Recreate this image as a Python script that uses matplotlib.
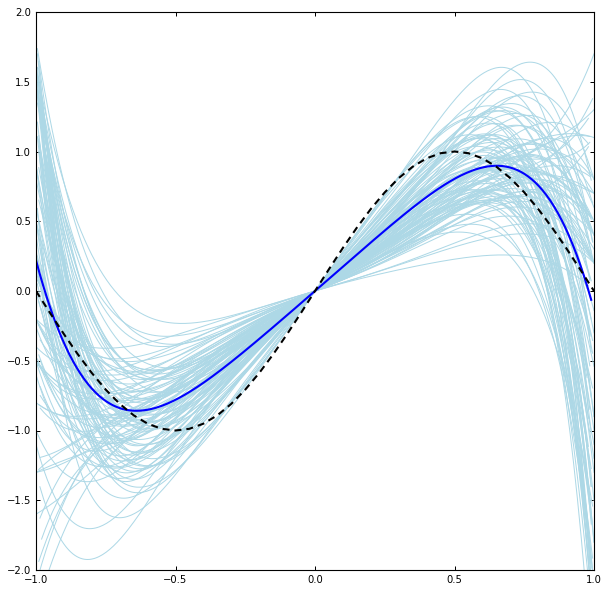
import numpy as np
import matplotlib
matplotlib.use("Agg")
import matplotlib.pyplot as plt

# ---- data: polynomial fits (coefficients of x, x^2, x^3, x^4, x^5, x^9)
C1 = [1.74, 1.74, 1.74, 1.74, 1.74, 1.2, 1.2, 1.2, 2.0, 2.0,
      2.0, 1.4, 1.4, 1.4, 1.4, 1.8, 1.8, 1.8, 1.0, 1.0,
      2.4, 2.4, 2.4, 0.8, 0.8, 1.3, 1.3, 1.3, 2.2, 2.2,
      2.2, 1.6, 1.6, 0.6, 2.8, 2.8, 2.8, 1.5, 1.5, 1.5,
      1.1, 1.1, 1.1, 1.9, 1.9, 1.4, 1.4, 2.0, 2.0, 2.0,
      1.2, 1.2, 1.2, 1.7, 2.5, 1.6, 1.6, 1.0, 1.0, 1.3,
      1.3, 1.8, 1.8, 2.0, 2.0, 2.6, 2.0, 2.4, 1.8, 2.8,
      1.74, 1.9, 2.1, 2.1, 1.5, 1.5, 1.5, 0.9, 0.9, 1.2,
      1.0, 1.6, 1.8, 1.8, 1.3, 1.0, 1.4, 1.5, 0.6, 0.8,
      1.3, 2.2, 1.1, 1.2, 1.4, 2.0, 1.7, 0.8, 0.6, 0.9,
      1.2, 1.0, 1.5, 1.4, 0.8]
C2 = [0.0, 0.3, -0.3, -0.2, 0.2, 0.3, -0.1, 0.4, 0.0, 0.5,
      0.1, 0.0, 0.3, -0.2, -0.3, 0.0, 0.1, -0.3, 0.0, -0.4,
      0.0, 0.3, -0.1, 0.0, 0.4, 0.0, 0.1, -0.6, 0.0, -0.2,
      -0.1, 0.0, 0.4, -0.4, 0.0, 0.2, 0.1, 0.0, 0.1, -0.4,
      0.0, 0.3, -0.1, 0.0, -0.2, 0.3, -0.1, 0.0, 0.4, -0.3,
      0.0, -0.2, 0.1, 0.2, -0.1, -0.1, -0.3, 0.0, 0.2, -0.1,
      -0.3, 0.2, 0.0, -0.1, 0.2, 0.1, -0.2, 0.2, -0.3, -0.3,
      -0.1, -0.1, 0.0, 0.1, 0.0, 0.3, -0.6, 0.0, 0.1, 0.2,
      -0.2, 0.2, -0.1, -0.3, 0.0, 0.1, 0.0, 0.4, 0.0, -0.1,
      -0.3, -0.3, -0.6, -0.6, -0.6, -0.6, -0.1, 0.0, 0.0, 0.0,
      0.0, -0.1, 0.0, 0.0, 0.4]
C3 = [-0.19, -0.19, -0.19, -0.19, -0.19, 1.0, 1.0, 1.0, -0.5, -0.5,
      -0.5, 0.8, 0.8, 0.8, 0.8, 1.0, 1.0, 1.0, 2.0, 2.0,
      -0.8, -0.8, -0.8, 1.0, 1.0, 2.0, 2.0, 2.0, 1.4, 1.4,
      1.4, 1.6, 1.6, 0.3, -1.0, -1.0, -1.0, 0.0, 0.0, 0.0,
      1.5, 1.5, 1.5, 2.0, 2.0, -0.3, -0.3, 0.5, 0.5, 0.5,
      0.5, 0.5, 0.5, 3.0, 1.0, 2.5, 2.5, 0.8, 0.8, 0.2,
      0.2, -2.0, -2.0, -1.5, -1.5, 1.5, -0.5, -0.8, 1.0, -1.0,
      -0.19, 2.0, 0.0, 0.0, 1.2, 1.2, 1.2, 0.5, 0.5, 1.0,
      2.0, 1.6, -2.0, -2.0, 0.2, 0.8, -0.3, 0.0, 0.3, 1.0,
      2.0, 1.4, 1.5, 0.5, 0.8, -0.5, 3.5, 1.0, 0.3, 0.5,
      1.0, 0.8, 0.0, -0.3, 1.0]
C4 = [0.0, 0.3, -0.3, 0.6, -0.6, 0.3, -0.2, -0.2, 0.0, 0.5,
      0.2, 0.0, 0.3, 0.6, -0.3, 0.0, 0.2, -0.3, 0.0, 0.2,
      0.0, 0.3, -0.2, 0.0, -0.2, 0.0, 0.2, -0.2, 0.0, 0.6,
      -0.2, 0.0, -0.2, 0.2, 0.0, -0.6, 0.2, 0.0, 0.2, 0.2,
      0.0, 0.3, -0.2, 0.0, 0.6, 0.3, -0.2, 0.0, -0.2, -0.3,
      0.0, 0.6, 0.2, -0.6, -0.2, -0.2, -0.3, 0.0, -0.6, -0.2,
      -0.3, -0.6, 0.0, -0.2, -0.6, 0.2, 0.6, -0.6, -0.3, -0.3,
      -0.2, -0.2, 0.0, 0.2, 0.0, 0.3, -0.2, 0.0, 0.2, -0.6,
      0.6, -0.6, -0.2, -0.3, 0.0, 0.2, 0.0, -0.2, 0.0, -0.2,
      -0.3, -0.3, -0.2, -0.2, -0.2, -0.2, -0.2, 0.9, 0.9, 1.0,
      1.0, 0.6, 1.0, 1.0, 0.5]
C5 = [-1.69, -1.69, -1.69, -1.69, -1.69, -1.8, -1.8, -1.8, -1.8, -1.8,
      -1.8, -3.0, -3.0, -3.0, -3.0, -3.6, -3.6, -3.6, -2.6, -2.6,
      -2.0, -2.0, -2.0, -1.6, -1.6, -4.5, -4.5, -4.5, -4.5, -4.5,
      -4.5, -2.6, -2.6, -0.7, -2.6, -2.6, -2.6, -1.0, -1.0, -1.0,
      -3.5, -3.5, -3.5, -4.0, -4.0, -0.6, -0.6, -4.0, -4.0, -4.0,
      -2.5, -2.5, -2.5, -4.0, -3.0, -6.0, -6.0, -1.0, -1.0, -0.5,
      -0.5, 1.9, 1.9, 0.5, 0.5, -5.0, -1.8, -2.0, -3.6, -2.6,
      -1.69, -4.0, -2.6, -2.6, -3.0, -3.0, -3.0, -1.2, -1.2, -1.8,
      -2.6, -2.6, 1.9, 1.9, -0.5, -1.0, -0.6, -1.0, -0.7, -1.6,
      -4.5, -4.5, -3.5, -2.5, -3.0, -1.8, -4.2, -2.5, -1.6, -2.2,
      -2.8, -1.8, -2.0, -1.6, -2.3]
C9 = [0.0, 0.0, 0.0, -1.0, 0.0, 0.0, -2.0, 0.0, -1.5, -0.5,
      0.0, -1.0, 0.0, 0.0, 0.0, -1.0, -0.6, 0.0, 0.0, 0.0,
      -1.2, 0.0, -1.5, 0.0, 0.0, 0.0, 0.0, 0.0, 0.0, 0.0,
      -1.0, 0.0, 0.0, 0.0, -0.8, -1.2, 0.0, 0.0, 0.0, 0.0,
      0.0, 0.0, 0.0, 0.0, 0.0, 0.0, 0.0, 0.0, 0.0, 0.0,
      0.0, 0.0, -0.5, 0.0, -1.5, 0.0, 0.0, 0.0, 0.0, 0.0,
      0.0, 0.0, 0.0, 0.0, 0.5, 0.0, -1.0, -1.5, -1.5, -1.0,
      -2.0, -2.0, 0.0, -1.0, 0.0, 0.0, -1.0, 0.0, 0.0, 0.0,
      0.0, 0.0, 0.0, 0.0, 0.3, 0.0, 0.0, 0.0, 0.0, 0.0,
      0.0, 0.0, 0.0, 0.0, -0.5, 0.0, 0.0, 0.0, 0.0, 0.0,
      0.0, 0.0, 0.0, 0.0, 0.0]
XS = [-1.0, -0.99, -0.995, -0.98, -1.0, -0.985, -0.99, -1.0, -0.975, -0.99,
      -1.0, -0.995, -0.985, -0.99, -1.0, -0.98, -0.995, -1.0, -0.99, -0.985,
      -1.0, -0.99, -0.975, -1.0, -0.995, -0.985, -0.99, -1.0, -0.98, -0.995,
      -0.99, -1.0, -0.985, -1.0, -0.99, -0.995, -0.98, -1.0, -0.99, -0.985,
      -1.0, -0.995, -0.99, -0.98, -1.0, -0.985, -0.99, -1.0, -0.975, -0.995,
      -1.0, -0.99, -0.985, -1.0, -0.995, -0.98, -0.99, -1.0, -0.985, -0.995,
      -1.0, -0.99, -0.986, -1.0, -0.98, -0.995, -0.99, -1.0, -0.985, -0.99,
      -0.985, -0.99, -1.0, -0.99, -0.995, -1.0, -0.98, -0.99, -1.0, -0.985,
      -0.995, -1.0, -0.99, -0.98, -0.99, -1.0, -0.995, -0.985, -1.0, -0.99,
      -0.98, -1.0, -0.995, -0.99, -0.985, -1.0, -0.986, -1.0, -1.0, -0.995,
      -1.0, -1.0, -0.99, -0.995, -0.995]
XE = [1.0, 0.99, 0.995, 0.985, 1.0, 0.98, 0.99, 1.0, 0.995, 0.985,
      0.99, 1.0, 0.975, 0.995, 0.99, 1.0, 0.985, 0.98, 1.0, 0.995,
      0.99, 1.0, 0.985, 0.995, 1.0, 0.98, 0.99, 0.995, 1.0, 0.985,
      0.99, 0.995, 1.0, 0.98, 0.99, 1.0, 0.985, 0.995, 0.99, 1.0,
      0.975, 0.99, 1.0, 0.985, 0.995, 1.0, 0.99, 0.98, 1.0, 0.995,
      0.985, 0.99, 1.0, 0.995, 0.98, 0.99, 1.0, 0.985, 0.995, 1.0,
      0.99, 0.98, 1.0, 0.995, 0.985, 0.99, 1.0, 0.995, 0.98, 0.99,
      1.0, 0.985, 0.995, 0.99, 1.0, 0.98, 0.995, 1.0, 0.99, 0.985,
      1.0, 0.99, 0.995, 0.98, 1.0, 0.985, 0.99, 1.0, 0.995, 0.98,
      0.99, 1.0, 0.985, 0.995, 0.99, 1.0, 0.99, 0.99, 1.0, 0.985,
      0.995, 0.98, 1.0, 0.99, 0.985]

# mean of the fits (coefficients of x .. x^5) and its x range
MEAN_COEF = [1.739, 0.05, -0.189, -0.0075, -1.728]
MEAN_RANGE = [-1.0, 0.99]

# true function read at x = -1 .. 1 step 0.05
TRUE_X = np.linspace(-1.0, 1.0, 41)
TRUE_Y = [0.0, -0.1564, -0.3090, -0.4540, -0.5878, -0.7071, -0.8090, -0.8910, -0.9511, -0.9877,
          -1.0, -0.9877, -0.9511, -0.8910, -0.8090, -0.7071, -0.5878, -0.4540, -0.3090, -0.1564,
          0.0, 0.1564, 0.3090, 0.4540, 0.5878, 0.7071, 0.8090, 0.8910, 0.9511, 0.9877,
          1.0, 0.9877, 0.9511, 0.8910, 0.8090, 0.7071, 0.5878, 0.4540, 0.3090, 0.1564, 0.0]

XTICKS = [-1.0, -0.5, 0.0, 0.5, 1.0]
YTICKS = [-2.0, -1.5, -1.0, -0.5, 0.0, 0.5, 1.0, 1.5, 2.0]

plt.rcParams['lines.scale_dashes'] = False
fig = plt.figure(figsize=(6.08, 5.91), dpi=100)
ax = fig.add_axes([36 / 608, 21 / 591, 558 / 608, 558 / 591])

for i in range(len(C1)):
    x = np.linspace(XS[i], XE[i], 300)
    y = (C1[i] * x + C2[i] * x ** 2 + C3[i] * x ** 3 + C4[i] * x ** 4
         + C5[i] * x ** 5 + C9[i] * x ** 9)
    ax.plot(x, y, color='lightblue', lw=0.72)

xm = np.linspace(MEAN_RANGE[0], MEAN_RANGE[1], 300)
ym = sum(c * xm ** (k + 1) for k, c in enumerate(MEAN_COEF))
ax.plot(xm, ym, color='blue', lw=1.5)
ax.plot(TRUE_X, TRUE_Y, color='black', lw=1.5, dashes=(5.0, 3.6))

ax.set_xlim(-1, 1)
ax.set_ylim(-2, 2)
ax.set_xticks(XTICKS)
ax.set_yticks(YTICKS)
ax.tick_params(direction='in', top=True, right=True, length=2.9, width=0.72,
               labelsize=7.2, pad=3.6, colors='black')
for s in ax.spines.values():
    s.set_linewidth(0.8)

fig.savefig('out.png', dpi=100, facecolor='white')
